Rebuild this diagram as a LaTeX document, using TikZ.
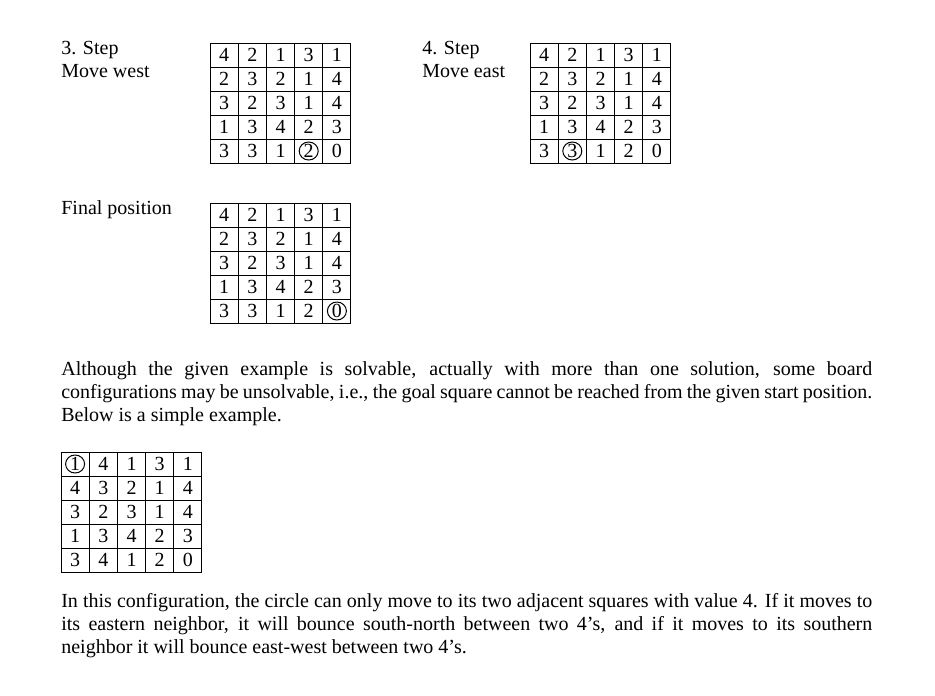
\documentclass[tikz,border=0pt]{standalone}
\usepackage{fontspec}
\setmainfont{Liberation Serif}
\usetikzlibrary{positioning,shapes.geometric}

\tikzset{
  txt/.style={font=\fontsize{12pt}{13.8pt}\selectfont,inner sep=0pt,anchor=base west},
  para/.style={txt,text width=486.6pt,align=justify},
  cell/.style={draw,line width=0.6pt,minimum width=16.9pt,minimum height=14.4pt,inner sep=0pt,
    font=\fontsize{12pt}{13.8pt}\selectfont},
  ring/.style={draw,ellipse,line width=0.6pt,minimum width=11.4pt,minimum height=10.8pt,inner sep=0pt}
}

% one 5x5 board, #1 = name, #2 = top left corner, #3 = rows
\newcommand{\gameboard}[3]{%
  \begin{scope}[shift={#2}]
    \foreach \row [count=\r] in {#3}{
      \foreach \v [count=\c] in \row{
        \node[cell] (#1-\r-\c) at (\c*28.2-14.1,\r*24-12) {\v};
      }
    }
  \end{scope}
}

\begin{document}
\begin{tikzpicture}[x=0.6pt,y=-0.6pt]
  \useasboundingbox (0,0) rectangle (935,695);

  % step 3
  \node[txt] (step3) at (61,54) {3. Step};
  \node[txt] (west) at (61,77) {Move west};
  \gameboard{ga}{(210,43)}{{4,2,1,3,1},{2,3,2,1,4},{3,2,3,1,4},{1,3,4,2,3},{3,3,1,2,0}}
  \node[ring] (ringa) at (ga-5-4) {};

  % step 4
  \node[txt] (step4) at (422,54) {4. Step};
  \node[txt] (east) at (422,77) {Move east};
  \gameboard{gb}{(530,43)}{{4,2,1,3,1},{2,3,2,1,4},{3,2,3,1,4},{1,3,4,2,3},{3,3,1,2,0}}
  \node[ring] (ringb) at (gb-5-2) {};

  % final
  \node[txt] (final) at (61,214) {Final position};
  \gameboard{gc}{(210,203)}{{4,2,1,3,1},{2,3,2,1,4},{3,2,3,1,4},{1,3,4,2,3},{3,3,1,2,0}}
  \node[ring] (ringc) at (gc-5-5) {};

  \node[para] (text1) at (61,375) {Although the given example is solvable, actually with more than one solution, some board\linebreak
    configurations may be unsolvable, i.e., the goal square cannot be reached from the given start position.\linebreak
    Below is a simple example.};

  % unsolvable board
  \gameboard{gd}{(61,452)}{{1,4,1,3,1},{4,3,2,1,4},{3,2,3,1,4},{1,3,4,2,3},{3,4,1,2,0}}
  \node[ring] (ringd) at (gd-1-1) {};

  \node[para] (text2) at (61,607) {In this configuration, the circle can only move to its two adjacent squares with value 4. If it moves to\linebreak
    its eastern neighbor, it will bounce south-north between two 4’s, and if it moves to its southern\linebreak
    neighbor it will bounce east-west between two 4’s.};
\end{tikzpicture}
\end{document}
